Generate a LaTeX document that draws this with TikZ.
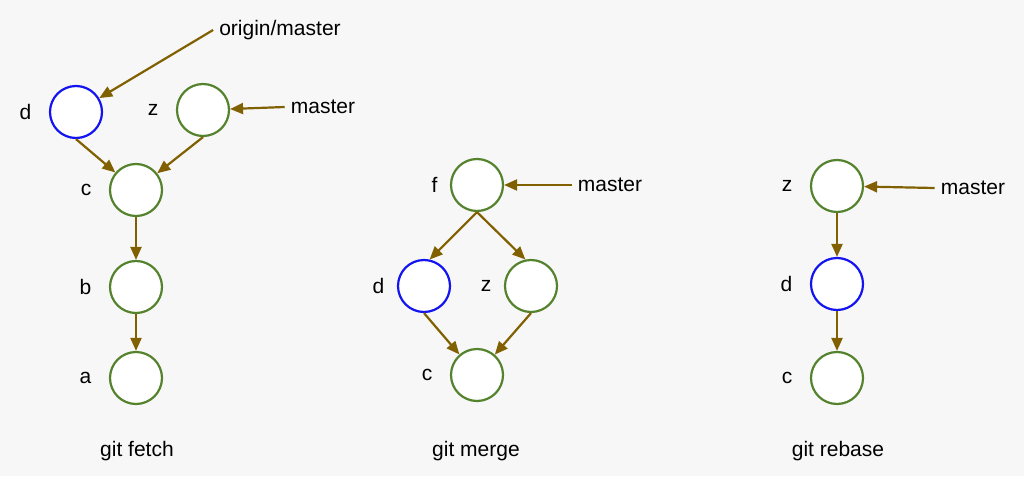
\documentclass[tikz,border=0pt]{standalone}
\usepackage{fontspec}
\setmainfont{Liberation Sans}
\usetikzlibrary{arrows.meta}
\definecolor{bgcol}{RGB}{247,247,247}
\definecolor{commitgreen}{RGB}{84,130,45}
\definecolor{commitblue}{RGB}{20,20,240}
\definecolor{ptrcol}{RGB}{128,96,0}
\tikzset{
  commit/.style={circle,draw=commitgreen,fill=white,line width=2.2pt,minimum size=52pt,inner sep=0pt},
  remote/.style={commit,draw=commitblue},
  tag/.style={inner sep=6pt,font=\fontsize{21}{25}\selectfont},
  ptr/.style={draw=ptrcol,line width=2.2pt,-{Triangle[length=13pt,width=11pt]}},
  every label/.style={font=\fontsize{21}{25}\selectfont,label distance=14pt}
}
\begin{document}
\begin{tikzpicture}[x=1pt,y=-1pt]
\fill[bgcol] (0,0) rectangle (1024,476);
\useasboundingbox (0,0) rectangle (1024,476);

% git fetch
\node[remote,label=left:d] (fd) at (76,112) {};
\node[commit,label=left:z] (fz) at (203,110) {};
\node[commit,label=left:c] (fc) at (136,190) {};
\node[commit,label=left:b] (fb) at (136,287) {};
\node[commit,label=left:a] (fa) at (136,378) {};
\node[tag] (fom) at (280,30) {origin/master};
\node[tag] (fm) at (323,107) {master};
\draw[ptr] (fd.south) -- (fc);
\draw[ptr] (fz.south) -- (fc);
\draw[ptr] (fc) -- (fb);
\draw[ptr] (fb) -- (fa);
\draw[ptr] (fom.west) -- (fd);
\draw[ptr] (fm.west) -- (fz);
\node[tag] (fcap) at (137,451) {git fetch};

% git merge
\begin{scope}[every label/.append style={label distance=9pt}]
\node[commit,label=left:f] (mf) at (477,185) {};
\node[remote,label=left:d] (md) at (424,286) {};
\node[commit,label=left:z] (mz) at (531,286) {};
\node[commit,label={[label distance=14pt]left:c}] (mc) at (477,375) {};
\end{scope}
\node[tag] (mm) at (610,185) {master};
\draw[ptr] (mf.south) -- (md.78);
\draw[ptr] (mf.south) -- (mz.102);
\draw[ptr] (md.south) -- (mc);
\draw[ptr] (mz.south) -- (mc);
\draw[ptr] (mm.west) -- (mf);
\node[tag] (mcap) at (476,451) {git merge};

% git rebase
\node[commit,label=left:z] (rz) at (837,186) {};
\node[remote,label=left:d] (rd) at (837,284) {};
\node[commit,label=left:c] (rc) at (837,378) {};
\node[tag] (rm) at (973,188) {master};
\draw[ptr] (rz) -- (rd);
\draw[ptr] (rd) -- (rc);
\draw[ptr] (rm.west) -- (rz);
\node[tag] (rcap) at (838,451) {git rebase};
\end{tikzpicture}
\end{document}
